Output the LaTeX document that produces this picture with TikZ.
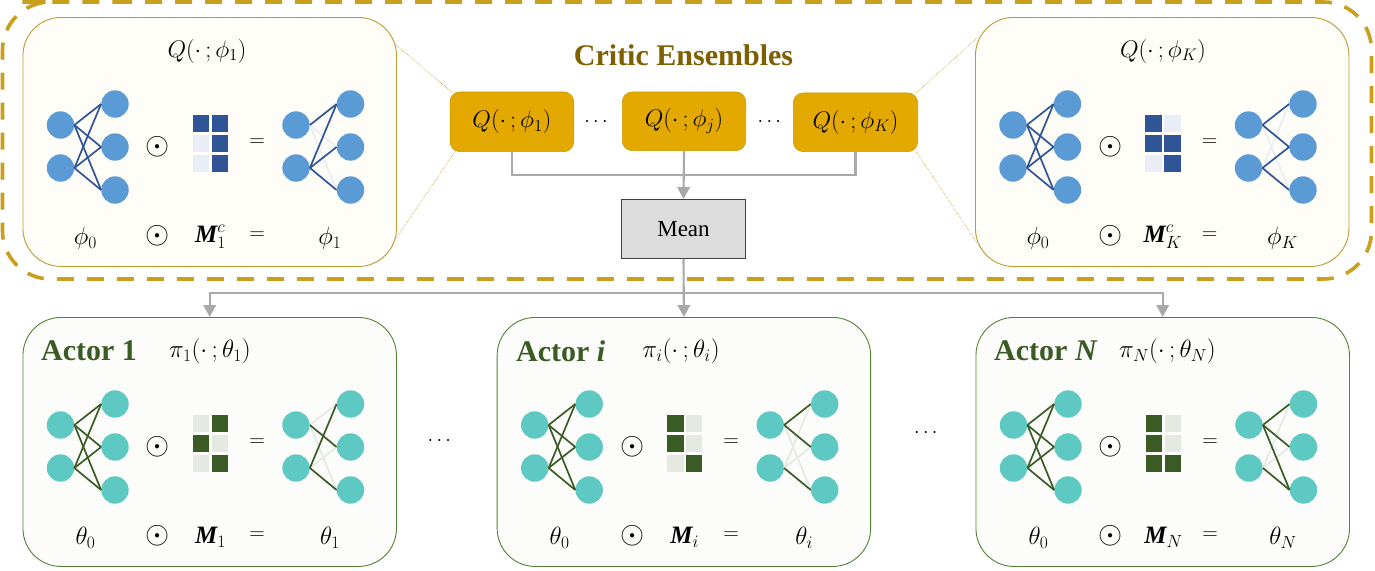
\documentclass[tikz,border=0pt]{standalone}
\usepackage{fix-cm}
\usepackage{amsmath}
\usepackage[no-math]{fontspec}
\setmainfont{Liberation Serif}
\usetikzlibrary{arrows.meta}
\definecolor{critEdge}{HTML}{2F5597}
\definecolor{critNode}{HTML}{5B9BD5}
\definecolor{critLight}{HTML}{E9EDF5}
\definecolor{critFrame}{HTML}{BF9B30}
\definecolor{critFill}{HTML}{FEFDF8}
\definecolor{actEdge}{HTML}{3B5B25}
\definecolor{actNode}{HTML}{5EC8C2}
\definecolor{actLight}{HTML}{E4E9E2}
\definecolor{actFrame}{HTML}{548235}
\definecolor{actFill}{HTML}{FCFDFB}
\definecolor{gold}{HTML}{C99F1B}
\definecolor{qfill}{HTML}{E3A900}
\definecolor{qline}{HTML}{CC9900}
\definecolor{headgreen}{HTML}{3B5B25}
\definecolor{headgold}{HTML}{7F6000}
\definecolor{meanfill}{HTML}{DCDCDC}
\definecolor{meanline}{HTML}{404040}
\definecolor{conn}{HTML}{A9A9A9}
\newcommand{\fs}[1]{\fontsize{#1}{#1}\selectfont}
\newcommand{\bM}{\text{\bfseries\itshape M}}
\tikzset{
  panelframe/.style={draw=#1Frame,fill=#1Fill,line width=0.9pt,rounded corners=38pt,
    minimum width=373.5pt,minimum height=249pt,inner sep=0pt,anchor=north west},
  neuron/.style={circle,fill=#1Node,minimum size=27.4pt,inner sep=0pt},
  cell/.style={minimum size=16.5pt,inner sep=0pt},
  mathtext/.style={inner sep=0pt,font=\fs{24}},
  labeltext/.style={inner sep=0pt,font=\fs{25}},
  dotstext/.style={inner sep=0pt,font=\fs{20}},
  optext/.style={inner sep=0pt,font=\fs{31}},
  eqtext/.style={inner sep=0pt,font=\fs{21.5}},
  heading/.style={inner sep=0pt,font=\fs{30}\bfseries,anchor=west,text=headgreen},
  qbox/.style={draw=qline,fill=qfill,rounded corners=10pt,line width=0.6pt,inner sep=0pt,font=\fs{24}},
  link/.style={draw=conn,line width=2.1pt},
  arrowlink/.style={link,-{Triangle[width=12.5pt,length=12pt]}},
  zoomline/.style={draw=gold,line width=0.6pt,densely dotted},
  wire/.style={line width=1.7pt}
}
% #1 name, #2 ox, #3 oy, #4 family (crit/act), #5 list side/row/bit, #6 left, #7 mask, #8 right
\newcommand{\netpanel}[8]{
  \node[panelframe=#4] (#1) at (#2,#3) {};
  \begin{scope}[shift={(#2,#3)}]
    \node[labeltext] (#1la) at (63,221) {$#6$};
    \node[optext] (#1opb) at (135.5,219) {$\odot$};
    \node[labeltext] (#1ma) at (188,220) {$#7$};
    \node[eqtext] (#1eqb) at (234.5,219) {$=$};
    \node[labeltext] (#1ra) at (307.5,221) {$#8$};
    \node[optext] (#1opt) at (135.5,130) {$\odot$};
    \node[eqtext] (#1eqt) at (234.5,126) {$=$};
    \foreach \nn/\nx/\rx in {p/38/92.5,q/273.5/328}{
      \node[neuron=#4] (#1\nn a) at (\nx,108) {};
      \node[neuron=#4] (#1\nn b) at (\nx,151) {};
      \node[neuron=#4] (#1\nn 1) at (\rx,87) {};
      \node[neuron=#4] (#1\nn 2) at (\rx,130) {};
      \node[neuron=#4] (#1\nn 3) at (\rx,173) {};
    }
    \foreach \sd/\rw/\bt in {#5}{
      \def\cc{a}
      \ifx\sd\cc \def\cx{178.7}\else \def\cx{197.4}\fi
      \ifnum\rw=1 \def\cy{106.5}\fi
      \ifnum\rw=2 \def\cy{126.6}\fi
      \ifnum\rw=3 \def\cy{146.3}\fi
      \draw[#4Edge,wire] (#1p\sd.east) -- (#1p\rw.west);
      \ifnum\bt=1
        \node[cell,fill=#4Edge] (#1m\sd\rw) at (\cx,\cy) {};
      \else
        \node[cell,fill=#4Light] (#1m\sd\rw) at (\cx,\cy) {};
        \draw[#4Light,wire] (#1q\sd.east) -- (#1q\rw.west);
      \fi
    }
    \foreach \sd/\rw/\bt in {#5}{
      \ifnum\bt=1
        \draw[#4Edge,wire] (#1q\sd.east) -- (#1q\rw.west);
      \fi
    }
  \end{scope}
}
\begin{document}
\begin{tikzpicture}[x=1pt,y=-1pt]
\useasboundingbox (0,0) rectangle (1375,570);
\fill[white] (0,0) rectangle (1375,570);
% zoom lines
\coordinate (zaT) at (390,40);
\coordinate (zaB) at (393,243);
\coordinate (zbT) at (977,38);
\coordinate (zbB) at (980,247);
\coordinate (qaT) at (453,93);
\coordinate (qaB) at (456,150);
\coordinate (qbT) at (915,94);
\coordinate (qbB) at (915,150);
\draw[zoomline] (zaT) -- (qaT);
\draw[zoomline] (zaB) -- (qaB);
\draw[zoomline] (zbT) -- (qbT);
\draw[zoomline] (zbB) -- (qbB);
% central critics
\node[qbox,minimum width=123.7pt,minimum height=59.7pt] (q1) at (511.9,121.8) {$Q(\cdot\,;\phi_1)$};
\node[qbox,minimum width=123.4pt,minimum height=58.7pt] (q2) at (684,121.3) {$Q(\cdot\,;\phi_j)$};
\node[qbox,minimum width=124.4pt,minimum height=58.7pt] (q3) at (855.5,122.3) {$Q(\cdot\,;\phi_K)$};
% panels
\netpanel{cA}{22.5}{17}{crit}{a/1/1,b/1/1,a/2/0,b/2/1,a/3/0,b/3/1}{\phi_0}{\bM_1^c}{\phi_1}
\netpanel{cK}{975}{17}{crit}{a/1/1,b/1/0,a/2/1,b/2/1,a/3/0,b/3/1}{\phi_0}{\bM_K^c}{\phi_K}
\netpanel{aA}{22.5}{317}{act}{a/1/0,b/1/1,a/2/1,b/2/0,a/3/0,b/3/1}{\theta_0}{\bM_1}{\theta_1}
\netpanel{aI}{496.7}{317}{act}{a/1/1,b/1/0,a/2/1,b/2/0,a/3/0,b/3/1}{\theta_0}{\bM_i}{\theta_i}
\netpanel{aN}{975.5}{317}{act}{a/1/1,b/1/0,a/2/1,b/2/0,a/3/1,b/3/1}{\theta_0}{\bM_N}{\theta_N}
% titles
\node[mathtext] (tA) at (207,51) {$Q(\cdot\,;\phi_1)$};
\node[mathtext] (tK) at (1163,51) {$Q(\cdot\,;\phi_K)$};
\node[labeltext] (pA) at (210,351) {$\pi_1(\cdot\,;\theta_1)$};
\node[labeltext] (pI) at (681,351) {$\pi_i(\cdot\,;\theta_i)$};
\node[labeltext] (pN) at (1167.5,351) {$\pi_N(\cdot\,;\theta_N)$};
\node[heading] (hA) at (41,351) {Actor 1};
\node[heading] (hI) at (516,351) {Actor \textit{i}};
\node[heading] (hN) at (994,351) {Actor \textit{N}};
\node[inner sep=0pt,font=\fs{30}\bfseries,text=headgold] (title) at (683.5,55) {Critic Ensembles};
% dots
\node[dotstext] (d1) at (597.7,122) {$\cdots$};
\node[dotstext] (d2) at (771,122) {$\cdots$};
\node[dotstext] (d3) at (441,441) {$\cdots$};
\node[dotstext] (d4) at (927.5,433) {$\cdots$};
% mean
\node[draw=meanline,fill=meanfill,line width=0.9pt,minimum width=124pt,minimum height=59pt,inner sep=0pt,font=\fs{23}] (mean) at (683.5,229) {Mean};
% outer
\draw[gold,line width=3.6pt,dash pattern=on 17pt off 13pt,rounded corners=48pt]
  (67,2) -- (1371.5,2) -- (1371.5,279) -- (2.5,279) -- (2.5,2) -- cycle;
% connectors
\coordinate (joint) at (684,175);
\coordinate (bus) at (683.5,293.3);
\draw[link] (q1.south) |- (joint);
\draw[link] (q3.south) |- (joint);
\draw[arrowlink] (q2.south) -- (mean.north);
\draw[arrowlink] (mean.south) -- (aI.north);
\draw[arrowlink] (bus) -| (aA.north);
\draw[arrowlink] (bus) -| (aN.north);
\end{tikzpicture}
\end{document}
